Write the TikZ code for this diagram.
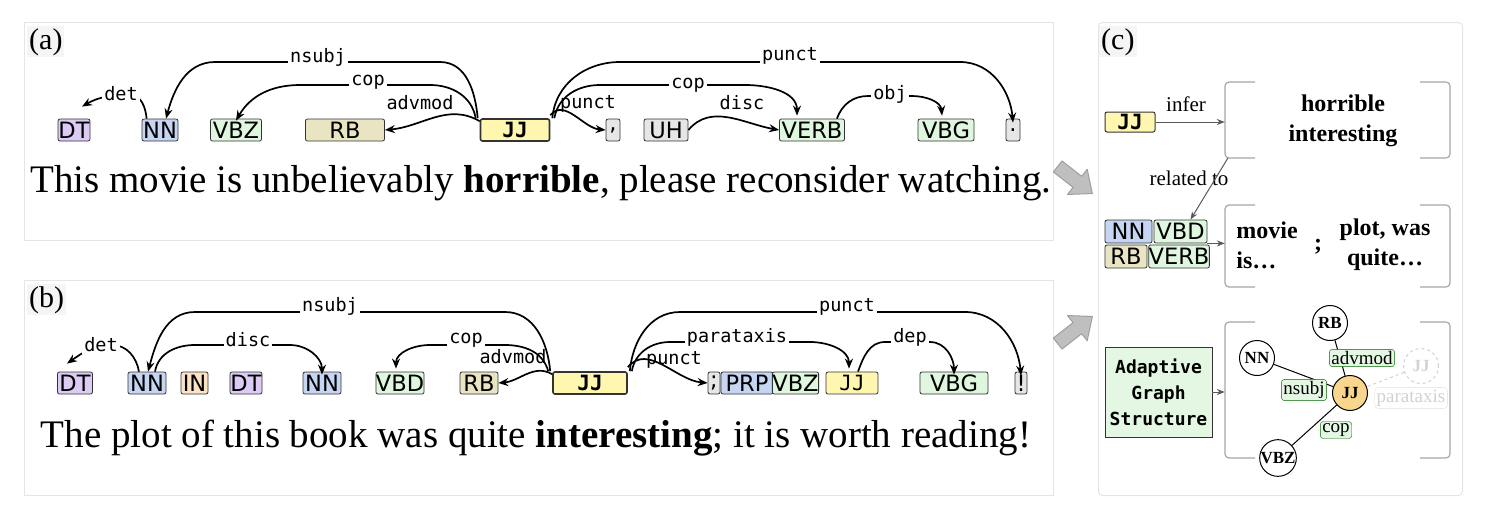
\documentclass[tikz,border=0pt]{standalone}
\usepackage{fontspec}
\setmainfont{Liberation Serif}
\newfontfamily\monof{DejaVu Sans Mono}
\newfontfamily\sansf{DejaVu Sans}
\usetikzlibrary{arrows.meta}
\definecolor{cDT}{HTML}{DCCBF2}
\definecolor{cNN}{HTML}{C6D6F2}
\definecolor{cVB}{HTML}{DFF6DF}
\definecolor{cRB}{HTML}{E9E5C2}
\definecolor{cJJ}{HTML}{FFF6B0}
\definecolor{cPU}{HTML}{E6E6E6}
\definecolor{cIN}{HTML}{FCE3C4}
\definecolor{cOR}{HTML}{F9D68E}
\definecolor{cGB}{HTML}{E3F7E3}
\tikzset{
  tag/.style={draw=black!80, rounded corners=2, minimum height=22, inner sep=0, line width=0.8pt, font=\sansf\fontsize{22.5}{22.5}\selectfont},
  tagjj/.style={tag, line width=1.6pt, font=\monof\bfseries\fontsize{21}{21}\selectfont},
  lab/.style={fill=white, inner sep=2, font=\monof\fontsize{18.5}{18.5}\selectfont},
  arr/.style={line width=1.7pt, -{Stealth[length=10pt,width=8pt]}},
  panelbox/.style={draw=gray!20, line width=1pt, anchor=north west},
  plabel/.style={fill=gray!8, inner sep=2, anchor=north west, font=\fontsize{30}{30}\selectfont},
  sent/.style={font=\fontsize{39}{42}\selectfont, inner sep=0},
  garr/.style={draw=gray!70!black, line width=1pt, -{Stealth[length=8pt,width=6pt]}},
  brk/.style={draw=gray!70, line width=1.2pt, rounded corners=4},
  ctxt/.style={font=\bfseries\fontsize{24}{30}\selectfont, align=center},
  small/.style={font=\fontsize{21}{21}\selectfont},
  gnode/.style={circle, draw, line width=1pt, minimum size=35, inner sep=0, font=\bfseries\fontsize{17}{17}\selectfont, fill=white},
  elab/.style={draw=green!40!black, fill=cGB, rounded corners=3, inner sep=2, font=\fontsize{19}{19}\selectfont},
  bigarr/.style={fill=gray!50, draw=gray!75, line width=1pt, line join=round}
}
\begin{document}
\begin{tikzpicture}[x=1pt,y=-1pt]
\useasboundingbox (0,0) rectangle (1488,514);
% ---------- panel (a)
\node[panelbox, minimum width=1029, minimum height=218] (pa) at (24,22) {};
\node[plabel] (la) at (27,26) {(a)};
\node[tag, fill=cDT, minimum width=32] (aDT) at (74,130) {DT};
\node[tag, fill=cNN, minimum width=36] (aNN) at (160,130) {NN};
\node[tag, fill=cVB, minimum width=51] (aVBZ) at (236,130) {VBZ};
\node[tag, fill=cRB, minimum width=79] (aRB) at (345,130) {RB};
\node[tagjj, fill=cJJ, minimum width=69] (aJJ) at (515,130) {JJ};
\node[tag, fill=cPU, minimum width=14] (aCM) at (613,130) {,};
\node[tag, fill=cPU, minimum width=44] (aUH) at (666,130) {UH};
\node[tag, fill=cVB, minimum width=65] (aVERB) at (812,130) {VERB};
\node[tag, fill=cVB, minimum width=56] (aVBG) at (946,130) {VBG};
\node[tag, fill=cPU, minimum width=14] (aPD) at (1013,130) {.};
\node[sent] (sa) at (541,183) {This movie is unbelievably \textbf{horrible}, please reconsider watching.};
\draw[arr] ([xshift=-2]aJJ.north west) to[out=95,in=0] (440,62) -- (215,62) to[out=180,in=75] ([xshift=6]aNN.north);
\draw[arr] ([xshift=-4]aJJ.north west) to[out=100,in=0] (430,85) -- (300,85) to[out=180,in=60] ([yshift=-2]aVBZ.north);
\draw[arr] ([yshift=-3]aJJ.north west) to[out=150,in=5] (aRB.east);
\draw[arr] ([xshift=5]aNN.north west) to[out=95,in=0] (130,95) to[out=180,in=30] ([shift={(8,-12)}]aDT.north);
\draw[arr] ([xshift=2]aJJ.north east) to[out=85,in=180] (620,62) -- (960,62) to[out=0,in=95] ([yshift=-4]aPD.north);
\draw[arr] ([xshift=4]aJJ.north east) to[out=80,in=180] (600,85) -- (745,85) to[out=0,in=90] ([shift={(-15,-3)}]aVERB.north);
\draw[arr] ([yshift=3]aJJ.north east) to[out=50,in=175] (aCM.west);
\draw[arr] (aUH.east) to[out=50,in=170] (aVERB.west);
\draw[arr] ([xshift=-8]aVERB.north east) to[out=70,in=180] (868,96) -- (912,96) to[out=0,in=95] ([shift={(-4,-3)}]aVBG.north);
\node[lab] (an1) at (318,57) {nsubj};
\node[lab] (an2) at (368,82) {cop};
\node[lab, fill=none] (an3) at (420,103) {advmod};
\node[lab] (an4) at (121,94) {det};
\node[lab] (an5) at (790,56) {punct};
\node[lab] (an6) at (688,85) {cop};
\node[lab, fill=none, inner sep=0] (an7) at (588,104) {punct};
\node[lab, fill=none] (an8) at (742,103) {disc};
\node[lab] (an9) at (890,94) {obj};
% ---------- panel (b)
\node[panelbox, minimum width=1029, minimum height=215] (pb) at (24,280) {};
\node[plabel] (lb) at (27,284) {(b)};
\node[tag, fill=cDT, minimum width=35] (bDT) at (75,383) {DT};
\node[tag, fill=cNN, minimum width=38] (bNN) at (147,383) {NN};
\node[tag, fill=cIN, minimum width=27] (bIN) at (194.5,383) {IN};
\node[tag, fill=cDT, minimum width=32] (bDTb) at (246,383) {DT};
\node[tag, fill=cNN, minimum width=38] (bNNb) at (322,383) {NN};
\node[tag, fill=cVB, minimum width=40] (bVBD) at (400,383) {VBD};
\node[tag, fill=cRB, minimum width=38] (bRB) at (479,383) {RB};
\node[tagjj, fill=cJJ, minimum width=74] (bJJ) at (590,383) {JJ};
\node[tag, fill=cPU, minimum width=12] (bSC) at (714,383) {;};
\node[tag, fill=cNN, minimum width=52] (bPRP) at (747,383) {PRP};
\node[tag, fill=cVB, minimum width=45] (bVBZ) at (795.5,383) {VBZ};
\node[tag, fill=cJJ, minimum width=52, font=\monof\fontsize{21}{21}\selectfont] (bJJb) at (852,383) {JJ};
\node[tag, fill=cVB, minimum width=68] (bVBG) at (954,383) {VBG};
\node[tag, fill=cPU, minimum width=12] (bEX) at (1021,383) {!};
\node[sent] (sb) at (536,438) {The plot of this book was quite \textbf{interesting}; it is worth reading!};
\draw[arr] ([xshift=-2]bJJ.north west) to[out=95,in=0] (505,312) -- (195,312) to[out=180,in=75] ([xshift=1]bNN.north);
\draw[arr] ([xshift=-4]bJJ.north west) to[out=105,in=0] (505,345) -- (430,345) to[out=180,in=90] ([shift={(-4,-3)}]bVBD.north);
\draw[arr] ([yshift=-3]bJJ.north west) to[out=150,in=5] (bRB.east);
\draw[arr] ([xshift=-8]bNN.north) to[out=100,in=0] (112,345) to[out=180,in=35] ([shift={(-8,-8)}]bDT.north);
\draw[arr] ([xshift=8]bNN.north) to[out=80,in=180] (195,345) -- (290,345) to[out=0,in=90] ([yshift=-3]bNNb.north);
\draw[arr] ([xshift=2]bJJ.north east) to[out=85,in=180] (680,312) -- (965,312) to[out=0,in=95] ([yshift=-4]bEX.north);
\draw[arr] ([xshift=4]bJJ.north east) to[out=80,in=180] (670,342) -- (810,342) to[out=0,in=90] ([shift={(-3,-3)}]bJJb.north);
\draw[arr] ([yshift=4]bJJ.north east) to[out=50,in=175] (bSC.west);
\draw[arr] ([xshift=6]bJJb.north) to[out=70,in=180] (885,342) -- (930,342) to[out=0,in=90] ([yshift=-3]bVBG.north);
\node[lab] (bn1) at (330,306) {nsubj};
\node[lab] (bn2) at (466,340) {cop};
\node[lab, fill=none] (bn3) at (513,357) {advmod};
\node[lab] (bn4) at (101,345) {det};
\node[lab] (bn5) at (248,340) {disc};
\node[lab] (bn6) at (847,307) {punct};
\node[lab] (bn7) at (737,337) {parataxis};
\node[lab, fill=none] (bn8) at (674,360) {punct};
\node[lab] (bn9) at (910,337) {dep};
% ---------- big arrows
\begin{scope}[shift={(1075,180)}, rotate=-38]
\path[bigarr] (-22,-7) -- (3,-7) -- (3,-16) -- (22,0) -- (3,16) -- (3,7) -- (-22,7) -- cycle;
\end{scope}
\begin{scope}[shift={(1075,330)}, rotate=38]
\path[bigarr] (-22,-7) -- (3,-7) -- (3,-16) -- (22,0) -- (3,16) -- (3,7) -- (-22,7) -- cycle;
\end{scope}
% ---------- panel (c)
\node[panelbox, minimum width=364, minimum height=473, rounded corners=4] (pc) at (1098,22) {};
\node[plabel] (lc) at (1099,26) {(c)};
\node[tagjj, fill=cJJ, minimum width=50, minimum height=20, line width=1pt] (cJJ) at (1130,122) {JJ};
\node[minimum width=225, minimum height=76, inner sep=0] (cB1) at (1337.5,120) {};
\draw[brk] (1255,82) -- (1225,82) -- (1225,158) -- (1255,158);
\draw[brk] (1420,82) -- (1450,82) -- (1450,158) -- (1420,158);
\node[ctxt] (ct1) at (1343,121) {horrible\\interesting};
\draw[garr] (cJJ.east) -- (cB1.west |- cJJ.east);
\node[small] (cinf) at (1186,104) {infer};
\node[tag, fill=cNN, minimum width=47, minimum height=23] (cNN) at (1128.5,231.5) {NN};
\node[tag, fill=cVB, minimum width=53, minimum height=23] (cVBD) at (1180.5,231.5) {VBD};
\node[tag, fill=cRB, minimum width=42, minimum height=23] (cRB) at (1126,256.5) {RB};
\node[tag, fill=cVB, minimum width=60, minimum height=23] (cVERB) at (1179,256.5) {VERB};
\node[small] (crel) at (1189,178) {related to};
\draw[garr] ([xshift=3]cB1.south west) -- ([xshift=10]cVBD.north);
\node[minimum width=225, minimum height=82, inner sep=0] (cB2) at (1337.5,246) {};
\draw[brk] (1255,205) -- (1225,205) -- (1225,287) -- (1255,287);
\draw[brk] (1420,205) -- (1450,205) -- (1450,287) -- (1420,287);
\draw[garr] (cVBD.south east) -- (cB2.west |- cVBD.south east);
\node[ctxt, align=left] (ct2) at (1267,245) {movie\\is\ldots};
\node[ctxt] (ct3) at (1318,247) {;};
\node[ctxt] (ct4) at (1385,245) {plot, was\\quite\ldots};
\node[minimum width=225, minimum height=136, inner sep=0] (cB3) at (1337.5,390) {};
\draw[brk] (1255,322) -- (1225,322) -- (1225,458) -- (1255,458);
\draw[brk] (1420,322) -- (1450,322) -- (1450,458) -- (1420,458);
\node[draw=black!80, fill=cGB, line width=0.8pt, minimum width=107, minimum height=90, inner sep=1, align=center, font=\monof\bfseries\fontsize{18}{26}\selectfont] (cAGS) at (1158.5,392) {Adaptive\\Graph\\Structure};
\draw[garr] (cAGS.east) -- (cB3.west |- cAGS.east);
\node[gnode] (gRB) at (1330,323) {RB};
\node[gnode] (gNN) at (1257,358) {NN};
\node[gnode, fill=cOR] (gJJ) at (1350,393) {JJ};
\node[gnode, draw=gray!35, dashed, text=gray!35] (gGh) at (1421,366) {JJ};
\node[gnode] (gVBZ) at (1278,458) {VBZ};
\draw[line width=1pt] (gRB) -- (gJJ);
\draw[line width=1pt] (gNN) -- (gJJ);
\draw[line width=1pt] (gVBZ) -- (gJJ);
\draw[gray!35, dashed, line width=1pt] (gGh) -- (gJJ);
\node[elab] (eAd) at (1362,358) {advmod};
\node[elab] (eNs) at (1304,390) {nsubj};
\node[elab] (eCo) at (1336,430) {cop};
\node[elab, draw=gray!25, fill=white, text=gray!35] (ePa) at (1411,398) {parataxis};
\end{tikzpicture}
\end{document}
